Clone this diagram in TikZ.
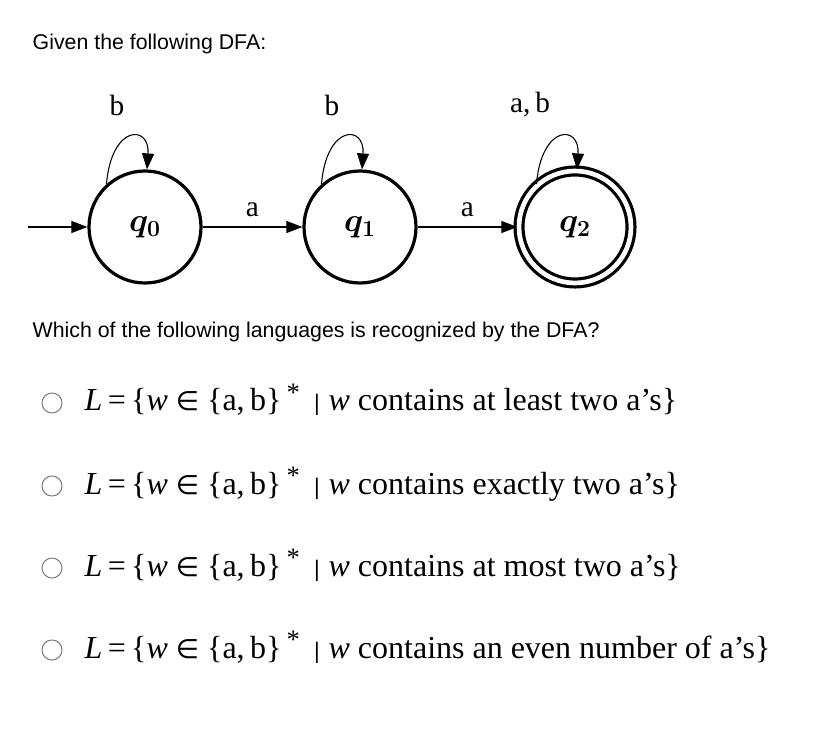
\documentclass[tikz,border=0pt]{standalone}
\usepackage{bm}
\usepackage{fontspec}
\setmainfont{Liberation Serif}
\newfontfamily\arial{Liberation Sans}
\newfontfamily\dvs{DejaVu Sans}
\usetikzlibrary{arrows.meta}
\begin{document}
\begin{tikzpicture}[x=0.75pt,y=-0.75pt,
  state/.style={circle,draw,line width=2.4pt,minimum size=112*0.75pt,inner sep=0pt,font=\fontsize{26}{26}\selectfont},
  tr/.style={-{Triangle[length=12pt,width=9pt]},line width=0.8pt},
  lbl/.style={font=\fontsize{22}{22}\selectfont},
  q/.style={anchor=base west,font=\arial\fontsize{16}{16}\selectfont},
  opt/.style={anchor=base west,font=\fontsize{24}{24}\selectfont}]
\useasboundingbox (0,0) rectangle (832,748);
\node[q] (t1) at (28,50) {Given the following DFA:};
\node[state] (q0) at (145,227) {$\bm{q_0}$};
\node[state] (q1) at (360,227) {$\bm{q_1}$};
\node[state,double,double distance=3.5pt] (q2) at (575,227) {$\bm{q_2}$};
\coordinate (s) at (28,227);
\draw[tr] (s) -- (q0);
\draw[tr] (q0) -- node[lbl,above=4pt]{a} (q1);
\draw[tr] (q1) -- node[lbl,above=4pt]{a} (q2);
\foreach \n in {q0,q1,q2}{
  \draw[tr] (\n.132) .. controls +(5,-60) and +(3,-45) .. (\n.88);
}
\node[lbl] (b0) at (117,105) {b};
\node[lbl] (b1) at (332,105) {b};
\node[lbl] (b2) at (530,105) {a,\,b};
\node[q] (t2) at (28,338) {Which of the following languages is recognized by the DFA?};
\foreach \y/\t [count=\i] in {411/at least two a's,494/exactly two a's,576/at most two a's,658/an even number of a's}{
  \node[circle,draw,gray,line width=0.8pt,minimum size=20*0.75pt,inner sep=0pt] (r\i) at (52,\y-8) {};
  \node[opt] (o\i) at (80,\y) {\textit{L}\,=\,\{\textit{w} {\dvs\fontsize{20}{20}\selectfont ∈} \{a,\,b\}\raisebox{7pt}{\,\fontsize{20}{20}\selectfont *}\, {\dvs\fontsize{16}{16}\selectfont |} \textit{w} contains \t\}};
}
\end{tikzpicture}
\end{document}
